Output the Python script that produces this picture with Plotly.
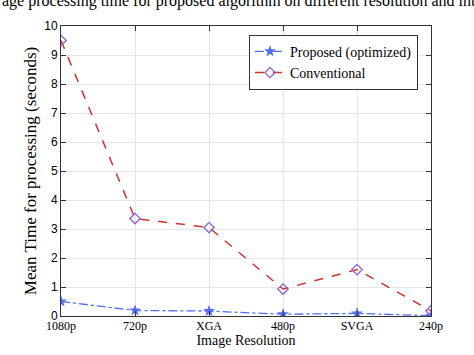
import plotly.graph_objects as go

categories = ["1080p", "720p", "XGA", "480p", "SVGA", "240p"]
proposed = [0.50, 0.19, 0.17, 0.06, 0.09, 0.01]
conventional = [9.50, 3.36, 3.05, 0.93, 1.60, 0.18]
y_ticks = list(range(0, 11))

x_idx = list(range(len(categories)))
SERIF = "Liberation Serif, Times New Roman, serif"

fig = go.Figure()
fig.add_trace(go.Scatter(
    x=x_idx, y=proposed, name="Proposed (optimized)", mode="lines+markers",
    line=dict(color="#4f6ef2", width=1.3, dash="dashdot"),
    marker=dict(symbol="star", size=9, color="#4f6ef2"),
))
fig.add_trace(go.Scatter(
    x=x_idx, y=conventional, name="Conventional", mode="lines+markers",
    line=dict(color="#d2312b", width=1.5, dash="dash"),
    marker=dict(symbol="diamond-open", size=8, color="#8a63d8", line=dict(width=1.3)),
))

fig.update_layout(
    width=474, height=355,
    margin=dict(l=61, r=43, t=26, b=39, autoexpand=False),
    paper_bgcolor="white", plot_bgcolor="white",
    showlegend=True,
    legend=dict(
        x=0.508, y=0.97, xanchor="left", yanchor="top",
        bordercolor="#333", borderwidth=1, bgcolor="white",
        font=dict(family=SERIF, size=14, color="black"),
        tracegroupgap=0, itemwidth=30,
    ),
    annotations=[dict(
        text="age processing time for proposed algorithm on different resolution and inte",
        xref="paper", yref="paper", x=-0.165, y=1, xanchor="left", yanchor="bottom",
        yshift=14, showarrow=False,
        font=dict(family=SERIF, size=16, color="black"),
    )],
)
fig.update_xaxes(
    range=[0, 5], tickmode="array", tickvals=x_idx, ticktext=categories,
    automargin=False,
    showgrid=True, gridcolor="#e6e6e6", gridwidth=1,
    showline=True, linecolor="#333", linewidth=1, mirror="ticks",
    ticks="inside", ticklen=5, tickcolor="#333",
    tickfont=dict(family=SERIF, size=12, color="black"),
    ticklabelstandoff=-1,
    title=dict(text="Image Resolution", font=dict(family=SERIF, size=14, color="black"), standoff=0),
    zeroline=False,
)
fig.update_yaxes(
    range=[0, 10], tickmode="array", tickvals=y_ticks,
    automargin=False,
    showgrid=True, gridcolor="#e6e6e6", gridwidth=1,
    showline=True, linecolor="#333", linewidth=1, mirror="ticks",
    ticks="inside", ticklen=5, tickcolor="#333",
    tickfont=dict(family="Liberation Sans, Arial, sans-serif", size=12, color="black"),
    title=dict(text="Mean Time for processing (seconds)", font=dict(family=SERIF, size=17, color="black"), standoff=3),
    zeroline=False,
)

fig.write_html("out.html", config={"displayModeBar": False},
               post_script="document.body.style.margin='0';")
